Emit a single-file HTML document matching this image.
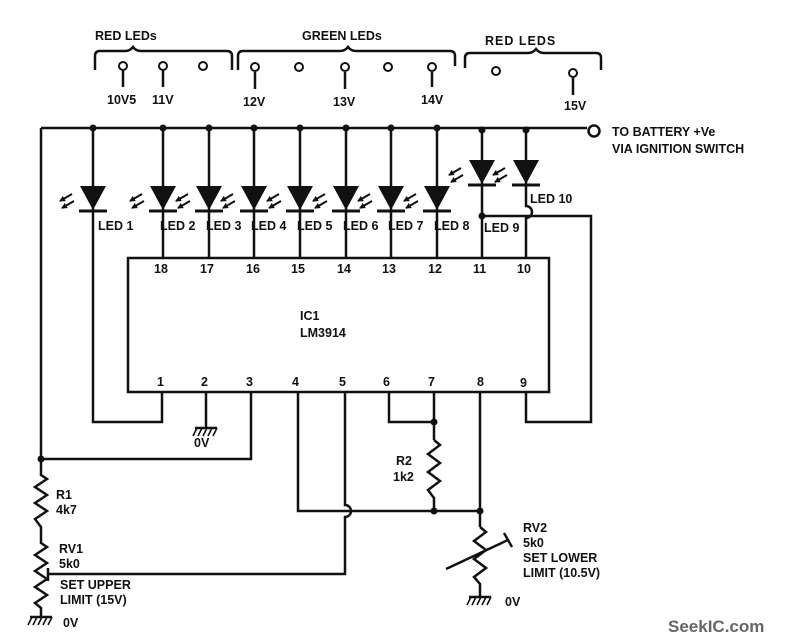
<!DOCTYPE html>
<html><head><meta charset="utf-8"><style>
html,body{margin:0;padding:0;background:#fff;}
svg{display:block;}
text{font-family:"Liberation Sans",sans-serif;font-weight:bold;fill:#111;}
</style></head><body>
<svg width="789" height="642" viewBox="0 0 789 642" xmlns="http://www.w3.org/2000/svg">
<defs>
<marker id="ah" markerWidth="6" markerHeight="6" refX="5" refY="3" orient="auto" markerUnits="userSpaceOnUse"><path d="M0,0 L6,3 L0,6 z" fill="#111"/></marker>
<g id="led">
 <polygon points="-13,0 13,0 0,24" fill="#111"/>
 <line x1="-14" y1="25" x2="14" y2="25" stroke="#111" stroke-width="3"/>
 <line x1="-21" y1="8" x2="-33" y2="15" stroke="#111" stroke-width="2" marker-end="url(#ah)"/>
 <line x1="-19" y1="15" x2="-31" y2="22" stroke="#111" stroke-width="2" marker-end="url(#ah)"/>
</g>
<g id="gnd">
 <line x1="-11" y1="0" x2="11" y2="0" stroke="#111" stroke-width="2.5"/>
 <path d="M-9,0 l-4,8 M-4,0 l-4,8 M1,0 l-4,8 M6,0 l-4,8 M11,0 l-4,8" stroke="#111" stroke-width="1.6" fill="none"/>
</g>
</defs>
<g stroke="#111" stroke-width="2.5" fill="none">
<path d="M95,70 V56 q0,-5 5,-5 H125 q5,0 8,-4 q3,4 8,4 H227 q5,0 5,5 V70"/>
<path d="M238,70 V56 q0,-5 5,-5 H340 q5,0 8,-4 q3,4 8,4 H450 q5,0 5,5 V66"/>
<path d="M465,68 V58 q0,-5 5,-5 H528 q5,0 8,-4 q3,4 8,4 H596 q5,0 5,5 V70"/>
<path d="M123,70 V87 M163,70 V87 M255,72 V89 M345,72 V89 M432,72 V87 M573,78 V95"/>
<path d="M41,128 H587"/>
<path d="M41,128 V459 H251 V392"/>
<path d="M93,128 V422 H162 V392"/>
<path d="M163,128 V258 M209,128 V258 M254,128 V258 M300,128 V258 M346,128 V258 M391,128 V258 M437,128 V258"/>
<path d="M482,128 V258 M526,128 V206 a6,6 0 0 1 0,12 V258"/>
<path d="M482,216 H591 V422 H526 V392"/>
<rect x="128" y="258" width="421" height="134"/>
<path d="M206,392 V428"/>
<path d="M298,392 V511 H480"/>
<path d="M345,392 V505 a6,6 0 0 1 0,12 V574 H48"/>
<path d="M48,568 V581"/>
<path d="M389,392 V422 H434 M434,392 V440"/>
<polyline points="434,440 440,445 428,454 440,463 428,472 440,481 428,490 434,498 434,511"/>
<path d="M480,392 V527"/>
<polyline points="480,527 486,532 474,541 486,550 474,559 486,568 474,577 480,584 480,597"/>
<line x1="446" y1="569" x2="508" y2="540"/>
<line x1="504" y1="533" x2="512" y2="547"/>
<polyline points="41,459 41,475 47,479 35,487 47,495 35,503 47,511 35,519 41,527 41,543 47,547 35,555 47,563 35,571 47,579 35,587 47,595 35,603 41,608 41,617"/>
</g>
<g stroke="#111" stroke-width="2" fill="#fff">
<circle cx="123" cy="66" r="4"/><circle cx="163" cy="66" r="4"/><circle cx="203" cy="66" r="4"/>
<circle cx="255" cy="67" r="4"/><circle cx="299" cy="67" r="4"/><circle cx="345" cy="67" r="4"/><circle cx="388" cy="67" r="4"/><circle cx="432" cy="67" r="4"/>
<circle cx="496" cy="71" r="4"/><circle cx="573" cy="73" r="4"/>
<circle cx="594" cy="131" r="5.5" stroke-width="2.5"/>
</g>
<g fill="#111">
<circle cx="93" cy="128" r="3.5"/><circle cx="163" cy="128" r="3.5"/><circle cx="209" cy="128" r="3.5"/><circle cx="254" cy="128" r="3.5"/><circle cx="300" cy="128" r="3.5"/><circle cx="346" cy="128" r="3.5"/><circle cx="391" cy="128" r="3.5"/><circle cx="437" cy="128" r="3.5"/><circle cx="482" cy="130" r="3.5"/><circle cx="526" cy="130" r="3.5"/>
<circle cx="482" cy="216" r="3.5"/><circle cx="41" cy="459" r="3.5"/><circle cx="434" cy="422" r="3.5"/><circle cx="434" cy="511" r="3.5"/><circle cx="480" cy="511" r="3.5"/>
</g>
<use href="#led" x="93" y="186"/><use href="#led" x="163" y="186"/><use href="#led" x="209" y="186"/><use href="#led" x="254" y="186"/><use href="#led" x="300" y="186"/><use href="#led" x="346" y="186"/><use href="#led" x="391" y="186"/><use href="#led" x="437" y="186"/>
<use href="#led" x="482" y="160"/><use href="#led" x="526" y="160"/>
<use href="#gnd" x="206" y="428"/><use href="#gnd" x="41" y="617"/><use href="#gnd" x="480" y="597"/>
<g font-size="12.5">
<text x="95" y="40">RED LEDs</text>
<text x="302" y="40">GREEN LEDs</text>
<text x="485" y="45" letter-spacing="1">RED LEDS</text>
<text x="107" y="104">10V5</text><text x="152" y="104">11V</text><text x="243" y="106">12V</text><text x="333" y="106">13V</text><text x="421" y="104">14V</text><text x="564" y="110">15V</text>
<text x="612" y="136">TO BATTERY +Ve</text>
<text x="612" y="153">VIA IGNITION SWITCH</text>
<text x="98" y="230">LED 1</text><text x="160" y="230">LED 2</text><text x="206" y="230">LED 3</text><text x="251" y="230">LED 4</text><text x="297" y="230">LED 5</text><text x="343" y="230">LED 6</text><text x="388" y="230">LED 7</text><text x="434" y="230">LED 8</text><text x="484" y="232">LED 9</text><text x="530" y="203">LED 10</text>
<text x="154" y="273">18</text><text x="200" y="273">17</text><text x="246" y="273">16</text><text x="291" y="273">15</text><text x="337" y="273">14</text><text x="382" y="273">13</text><text x="428" y="273">12</text><text x="473" y="273">11</text><text x="517" y="273">10</text>
<text x="157" y="386">1</text><text x="201" y="386">2</text><text x="246" y="386">3</text><text x="292" y="386">4</text><text x="339" y="386">5</text><text x="383" y="386">6</text><text x="428" y="386">7</text><text x="477" y="386">8</text><text x="520" y="387">9</text>
<text x="300" y="320">IC1</text><text x="300" y="337">LM3914</text>
<text x="194" y="447" font-weight="normal">0V</text>
<text x="396" y="465" font-weight="normal">R2</text><text x="393" y="481" font-weight="normal">1k2</text>
<text x="56" y="499" font-weight="normal">R1</text><text x="56" y="514" font-weight="normal">4k7</text>
<text x="59" y="553" font-weight="normal">RV1</text><text x="59" y="568" font-weight="normal">5k0</text>
<text x="60" y="589" font-weight="normal">SET UPPER</text><text x="60" y="604" font-weight="normal">LIMIT (15V)</text>
<text x="63" y="627" font-weight="normal">0V</text>
<text x="523" y="532">RV2</text><text x="523" y="547">5k0</text><text x="523" y="562">SET LOWER</text><text x="523" y="577">LIMIT (10.5V)</text>
<text x="505" y="606">0V</text>
</g>
<text x="668" y="632" font-size="17" style="fill:#666">SeekIC.com</text>
</svg>
</body></html>
